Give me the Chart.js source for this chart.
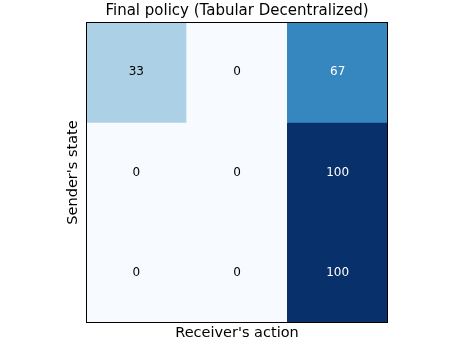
<!DOCTYPE html>
<html>
<head>
<meta charset="utf-8">
<script src="https://cdn.jsdelivr.net/npm/chart.js@4.4.1/dist/chart.umd.min.js"></script>
<style>
html,body{margin:0;padding:0;background:#fff;}
#wrap{width:474px;height:355px;}
</style>
</head>
<body>
<div id="wrap"><canvas id="c" width="474" height="355"></canvas></div>
<script>
// Data
const actions = ["0", "1", "2"];          // receiver's actions (columns)
const states = ["0", "1", "2"];           // sender's states (rows, top to bottom)
const row0 = [33, 0, 67];
const row1 = [0, 0, 100];
const row2 = [0, 0, 100];
const rows = [row0, row1, row2];
const vmax = 100;

// matplotlib "Blues" colormap stops
const blues = [[247,251,255],[222,235,247],[198,219,239],[158,202,225],[107,174,214],[66,146,198],[33,113,181],[8,81,156],[8,48,107]];
function bluesColor(t) {
  t = Math.max(0, Math.min(1, t));
  const p = t * (blues.length - 1);
  const i = Math.min(Math.floor(p), blues.length - 2);
  const f = p - i;
  const a = blues[i], b = blues[i + 1];
  const c = a.map((v, k) => Math.round(v + (b[k] - v) * f));
  return `rgb(${c[0]},${c[1]},${c[2]})`;
}

const nRows = states.length;
const datasets = rows.map((vals, r) => ({
  label: "state " + states[r],
  data: vals.map(() => [nRows - 1 - r, nRows - r]),
  values: vals,
  backgroundColor: vals.map(v => bluesColor(v / vmax)),
  borderWidth: 0,
  barPercentage: 1.0,
  categoryPercentage: 1.0,
  grouped: false,
  yAxisID: 'y'
}));

const cellText = {
  id: 'cellText',
  afterDatasetsDraw(chart) {
    const ctx = chart.ctx;
    ctx.save();
    ctx.font = '12px "DejaVu Sans"';
    ctx.textAlign = 'center';
    ctx.textBaseline = 'middle';
    chart.data.datasets.forEach((ds, di) => {
      const meta = chart.getDatasetMeta(di);
      meta.data.forEach((el, i) => {
        const v = ds.values[i];
        ctx.fillStyle = v > vmax / 2 ? '#ffffff' : '#000000';
        const cy = (el.y + el.base) / 2;
        ctx.fillText(String(v), el.x, cy);
      });
    });
    ctx.restore();
  }
};

const frame = {
  id: 'frame',
  afterDraw(chart) {
    const a = chart.chartArea;
    const ctx = chart.ctx;
    ctx.save();
    ctx.strokeStyle = '#000';
    ctx.lineWidth = 1;
    ctx.strokeRect(Math.round(a.left) + 0.5, Math.round(a.top) + 0.5, Math.round(a.right - a.left) - 1, Math.round(a.bottom - a.top) - 1);
    ctx.restore();
  }
};

new Chart(document.getElementById('c'), {
  type: 'bar',
  data: { labels: actions, datasets },
  options: {
    responsive: false,
    animation: false,
    layout: { padding: { left: 64.3, right: 64.3, top: 0, bottom: 13.3 } },
    plugins: {
      legend: { display: false },
      tooltip: { enabled: false },
      title: {
        display: true,
        text: 'Final policy (Tabular Decentralized)',
        color: '#000',
        font: { family: 'DejaVu Sans', size: 15, weight: 'normal', lineHeight: 1.2 },
        padding: { top: 2, bottom: 2 }
      }
    },
    scales: {
      x: {
        type: 'category',
        offset: true,
        grid: { display: false, drawTicks: false },
        border: { display: false },
        ticks: { display: false },
        title: {
          display: true,
          text: "Receiver's action",
          color: '#000',
          font: { family: 'DejaVu Sans', size: 14.5, lineHeight: 1.2 },
          padding: { top: 1.3, bottom: 0 }
        }
      },
      y: {
        type: 'linear',
        position: 'left',
        min: 0,
        max: nRows,
        grid: { display: false, drawTicks: false },
        border: { display: false },
        ticks: { display: false },
        title: {
          display: true,
          text: "Sender's state",
          color: '#000',
          font: { family: 'DejaVu Sans', size: 14.5, lineHeight: 1.2 },
          padding: { top: 0, bottom: 4.3 }
        }
      },
      yRight: {
        type: 'linear',
        position: 'right',
        display: true,
        min: 0,
        max: nRows,
        grid: { display: false, drawTicks: false },
        border: { display: false },
        ticks: { display: false },
        afterFit(scale) { scale.width = 21.7; }
      }
    }
  },
  plugins: [cellText, frame]
});
</script>
</body>
</html>
